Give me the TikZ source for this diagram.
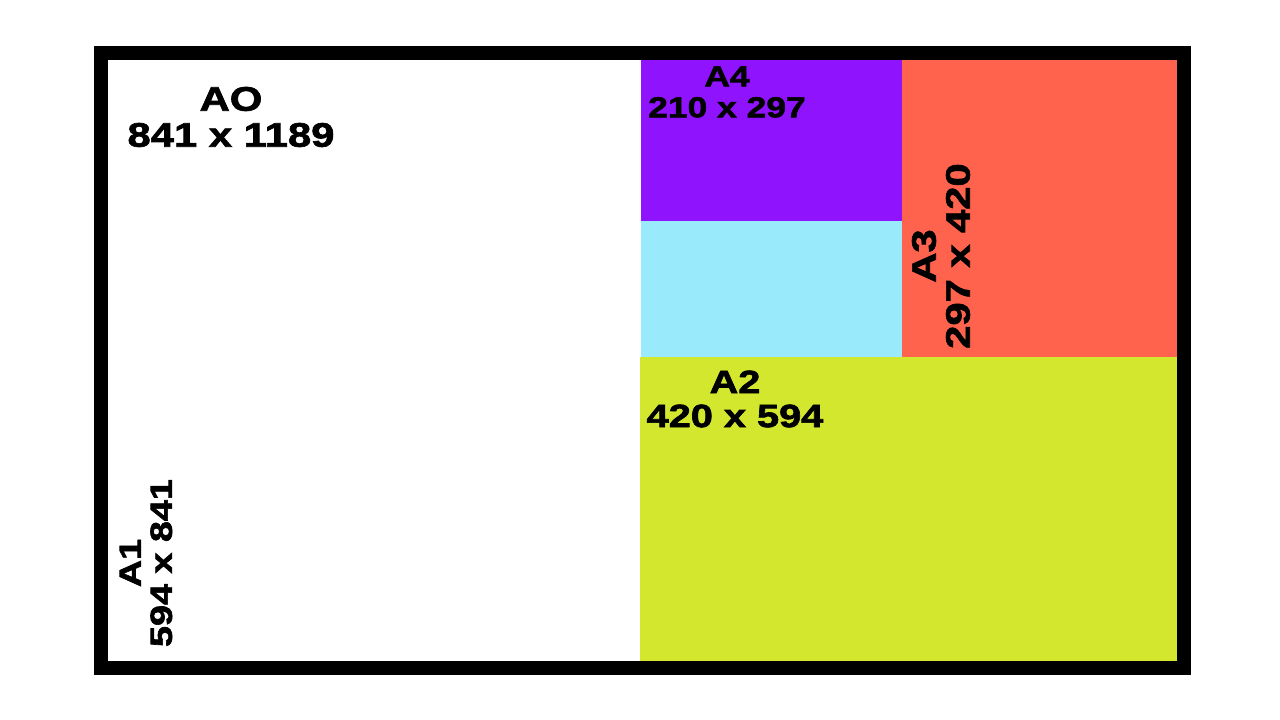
\documentclass[tikz,border=0pt]{standalone}
\usepackage{fontspec}
\setmainfont{Liberation Sans}[FakeStretch=1.23,BoldFeatures={FakeBold=2}]
\usetikzlibrary{positioning}

\definecolor{sheetpurple}{HTML}{9013FE}
\definecolor{sheetcyan}{HTML}{99EBFC}
\definecolor{sheetred}{HTML}{FF634D}
\definecolor{sheetlime}{HTML}{D4E72F}

\begin{document}
\begin{tikzpicture}[x=1pt,y=-1pt,
    lbl/.style={align=center,inner sep=0pt,font=\bfseries}]
                \useasboundingbox (0,0) rectangle (1280,720);
                \fill[white] (0,0) rectangle (1280,720);
                % sheets
                \fill[sheetpurple] (641,60) rectangle (902,221);
                \fill[sheetcyan] (641,221) rectangle (902,357);
                \fill[sheetred] (902,60) rectangle (1179,357);
                \fill[sheetlime] (640,357) rectangle (1179,662);
                % frame
                \draw[line width=14pt] (101,53) rectangle (1184,668);
                % labels
                \node[lbl,font=\bfseries\fontsize{34}{36}\selectfont] (A0) at (231,117) {AO\\841 x 1189};
                \node[lbl,font=\bfseries\fontsize{28.8}{31}\selectfont] (A4) at (727,92) {A4\\210 x 297};
                \node[lbl,font=\bfseries\fontsize{32.3}{34}\selectfont] (A2) at (735,399) {A2\\420 x 594};
                \node[lbl,rotate=90,font=\bfseries\fontsize{33.9}{34}\selectfont] (A3) at (941,256) {A3\\297 x 420};
                \node[lbl,rotate=90,font=\bfseries\fontsize{30.7}{31}\selectfont] (A1) at (146,563) {A1\\594 x 841};
            \end{tikzpicture}
\end{document}
